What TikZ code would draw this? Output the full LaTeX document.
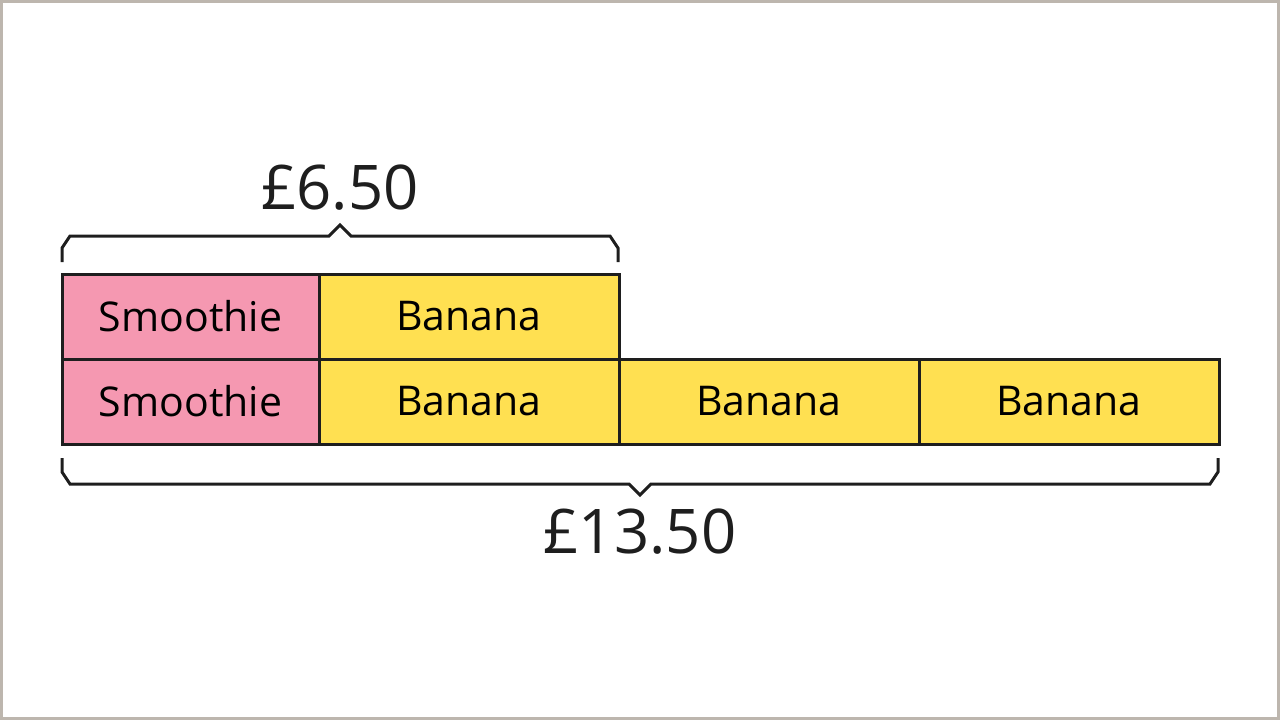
\documentclass[tikz,border=0pt]{standalone}
\usepackage{fontspec}
\setmainfont{Open Sans}
\usetikzlibrary{positioning}
\definecolor{smoothiepink}{HTML}{F598B1}
\definecolor{bananayellow}{HTML}{FFE051}
\definecolor{inkblack}{HTML}{1E1E1E}
\definecolor{framegrey}{HTML}{BDB6AE}
\tikzset{every node/.style={align=center}, font=\fontsize{20.5}{24}\selectfont}
\tikzset{cell/.style={draw=inkblack, line width=1.5pt, outer sep=0pt, minimum height=42.5pt, inner sep=0pt},
         smoothie/.style={cell, fill=smoothiepink, minimum width=128.5pt},
         banana/.style={cell, fill=bananayellow, minimum width=150pt},
         brace/.style={draw=inkblack, line width=1.5pt, line join=miter},
         price/.style={font=\fontsize{30.8}{36}\selectfont, text=inkblack}}

\begin{document}
\begin{tikzpicture}[x=0.5pt, y=0.5pt]
            \useasboundingbox (0,0) rectangle (1280,720);
            \draw[framegrey, line width=1.5pt] (1.5,1.5) rectangle (1278.5,718.5);
            \node[smoothie] (s1) at (190.5,403.5) {Smoothie};
            \node[banana] (b1) [right=0pt of s1] {Banana};
            \node[smoothie] (s2) [below=0pt of s1] {Smoothie};
            \node[banana] (b2) [right=0pt of s2] {Banana};
            \node[banana] (b3) [right=0pt of b2] {Banana};
            \node[banana] (b4) [right=0pt of b3] {Banana};
            % braces above and below the bars
            \draw[brace] (62,458) -- (62,472) -- (70,484) -- (329,484) -- (340,495) -- (351,484)
                -- (610,484) -- (618,472) -- (618,458);
            \draw[brace] (62,262) -- (62,248) -- (70,236) -- (629,236) -- (640,225)
                -- (651,236) -- (1210,236) -- (1218,248) -- (1218,262);
            \node[price] (p1) at (340,532) {£6.50};
            \node[price] (p2) at (640,188) {£13.50};
        \end{tikzpicture}
\end{document}
